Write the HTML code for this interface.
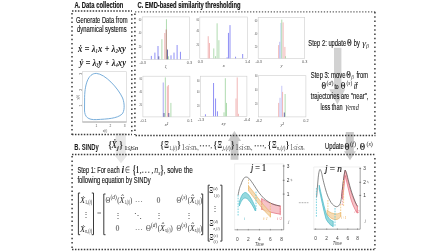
<!DOCTYPE html><html><head><meta charset="utf-8"><style>html,body{margin:0;padding:0;background:#fff;}svg{display:block;filter:blur(0.35px);}</style></head><body>
<svg width="448" height="252" viewBox="0 0 448 252">
<rect width="448" height="252" fill="#fff"/>
<path d="M115.6 133 H125.8 V154.5 H128 L121 163.3 L113.8 154.5 H115.6 Z" fill="#e8e8e8"/>
<path d="M230.6 159.7 V140.9 H227.9 L234.4 131 L241.1 140.9 H238.4 V159.7 Z" fill="#c9c9c9"/>
<path d="M334 47.7 H341.4 V89.2 H345.2 L337.4 104.5 L329.2 89.2 H334 Z" fill="#d2d2d2"/>
<path d="M345.8 132 H353.8 V151.2 H356 L350 160.2 L344 151.2 H345.8 Z" fill="#c9c9c9"/>
<line x1="72" y1="10.9" x2="132" y2="10.9" stroke="#3c3c3c" stroke-width="1.5" stroke-dasharray="1.5 1.4500000000000002"/>
<line x1="72" y1="13" x2="72" y2="135" stroke="#3c3c3c" stroke-width="1.5" stroke-dasharray="1.5 2.8"/>
<line x1="131.8" y1="14" x2="131.8" y2="133" stroke="#3c3c3c" stroke-width="1.5" stroke-dasharray="1.5 2.8"/>
<line x1="72" y1="134.6" x2="132" y2="134.6" stroke="#3c3c3c" stroke-width="1.5" stroke-dasharray="1.5 1.4500000000000002"/>
<line x1="135" y1="11.8" x2="375.5" y2="11.8" stroke="#606060" stroke-width="1.3" stroke-dasharray="1.3 1.6500000000000001"/>
<line x1="134.9" y1="13.5" x2="134.9" y2="135" stroke="#3c3c3c" stroke-width="1.5" stroke-dasharray="1.5 2.8"/>
<line x1="374.9" y1="12" x2="374.9" y2="135" stroke="#3c3c3c" stroke-width="1.5" stroke-dasharray="1.5 2.8"/>
<line x1="135.5" y1="135.6" x2="375.5" y2="135.6" stroke="#3c3c3c" stroke-width="1.5" stroke-dasharray="1.5 1.4500000000000002"/>
<line x1="72" y1="154.6" x2="375.5" y2="154.6" stroke="#3c3c3c" stroke-width="1.5" stroke-dasharray="1.5 1.4500000000000002"/>
<line x1="72.1" y1="156.1" x2="72.1" y2="249" stroke="#3c3c3c" stroke-width="1.5" stroke-dasharray="1.5 2.8"/>
<line x1="374.9" y1="158" x2="374.9" y2="249" stroke="#3c3c3c" stroke-width="1.5" stroke-dasharray="1.5 2.8"/>
<line x1="72" y1="249.6" x2="375.5" y2="249.6" stroke="#3c3c3c" stroke-width="1.5" stroke-dasharray="1.5 1.4500000000000002"/>
<text x="74.4" y="7.7" font-family="'Liberation Sans', Arial, sans-serif" font-size="8.8" font-weight="bold" font-style="normal" fill="#111" text-anchor="start" textLength="49" lengthAdjust="spacingAndGlyphs" stroke="#111" stroke-width="0.15">A. Data collection</text>
<text x="137.5" y="7.6" font-family="'Liberation Sans', Arial, sans-serif" font-size="8.8" font-weight="bold" font-style="normal" fill="#111" text-anchor="start" textLength="103" lengthAdjust="spacingAndGlyphs" stroke="#111" stroke-width="0.15">C. EMD-based similarity thresholding</text>
<text x="74.2" y="149.7" font-family="'Liberation Sans', Arial, sans-serif" font-size="8.8" font-weight="bold" font-style="normal" fill="#1a1a1a" text-anchor="start" textLength="24.6" lengthAdjust="spacingAndGlyphs" >B. SINDy</text>
<text x="76" y="22.8" font-family="'Liberation Sans', Arial, sans-serif" font-size="8.4" font-weight="normal" font-style="normal" fill="#111" text-anchor="start" textLength="51.5" lengthAdjust="spacingAndGlyphs"  stroke="#111" stroke-width="0.12">Generate Data from</text>
<text x="77.1" y="32.1" font-family="'Liberation Sans', Arial, sans-serif" font-size="8.4" font-weight="normal" font-style="normal" fill="#111" text-anchor="start" textLength="49.5" lengthAdjust="spacingAndGlyphs"  stroke="#111" stroke-width="0.12">dynamical systems</text>
<text x="78" y="51.8" font-family="'Liberation Serif', 'Times New Roman', serif" font-size="10.5" font-style="italic" font-weight="bold" fill="#1a1a1a" textLength="48" lengthAdjust="spacingAndGlyphs">ẋ = λ<tspan font-size="5.5" dy="1.2">1</tspan><tspan dy="-1.2">x + λ</tspan><tspan font-size="5.5" dy="1.2">2</tspan><tspan dy="-1.2">xy</tspan></text>
<text x="79.4" y="65.5" font-family="'Liberation Serif', 'Times New Roman', serif" font-size="10.5" font-style="italic" font-weight="bold" fill="#1a1a1a" textLength="46.6" lengthAdjust="spacingAndGlyphs">ẏ = λ<tspan font-size="5.5" dy="1.2">3</tspan><tspan dy="-1.2">y + λ</tspan><tspan font-size="5.5" dy="1.2">4</tspan><tspan dy="-1.2">xy</tspan></text>
<rect x="82.5" y="71.7" width="44.1" height="50.3" fill="none" stroke="#cfcfcf" stroke-width="0.6"/>
<line x1="82.5" y1="122" x2="126.6" y2="122" stroke="#999" stroke-width="0.8"/>
<path d="M84.6 100 C84.4 85 88 73.2 96.3 73.4 C105 73.8 118 88 122.6 98 C125 104 124.5 112 121.9 114.2 C117 118.5 108 119 96.3 119.6 C88 120 84.6 117 84.5 110 Z" fill="none" stroke="#72aad8" stroke-width="0.95"/>
<text x="96.3" y="126.8" font-family="'Liberation Sans', Arial, sans-serif" font-size="3.2" font-weight="normal" font-style="normal" fill="#555" text-anchor="middle" >1</text>
<text x="110.4" y="126.8" font-family="'Liberation Sans', Arial, sans-serif" font-size="3.2" font-weight="normal" font-style="normal" fill="#555" text-anchor="middle" >2</text>
<text x="124.6" y="126.8" font-family="'Liberation Sans', Arial, sans-serif" font-size="3.2" font-weight="normal" font-style="normal" fill="#555" text-anchor="middle" >3</text>
<text x="0" y="0" font-family="'Liberation Sans', Arial, sans-serif" font-size="3.6" fill="#555" text-anchor="middle" transform="translate(81.8 73.7) rotate(-90)">3</text>
<text x="0" y="0" font-family="'Liberation Sans', Arial, sans-serif" font-size="3.6" fill="#555" text-anchor="middle" transform="translate(81.8 89.8) rotate(-90)">2</text>
<text x="0" y="0" font-family="'Liberation Sans', Arial, sans-serif" font-size="3.6" fill="#555" text-anchor="middle" transform="translate(81.8 105.5) rotate(-90)">1</text>
<text x="105" y="131.6" font-family="'Liberation Sans', Arial, sans-serif" font-size="3.2" font-weight="normal" font-style="normal" fill="#555" text-anchor="middle" >x(t)</text>
<text x="0" y="0" font-family="'Liberation Sans', Arial, sans-serif" font-size="3.2" fill="#555" text-anchor="middle" transform="translate(79.2 97.2) rotate(-90)">y(t)</text>
<rect x="142.2" y="16.9" width="47.20" height="42.40" fill="none" stroke="#cdcdcd" stroke-width="0.6"/>
<text x="138.8" y="20.9" font-family="'Liberation Sans', Arial, sans-serif" font-size="3.4" font-weight="normal" font-style="normal" fill="#555" text-anchor="start" textLength="2.6" lengthAdjust="spacingAndGlyphs" >60</text>
<text x="138.8" y="33.8" font-family="'Liberation Sans', Arial, sans-serif" font-size="3.4" font-weight="normal" font-style="normal" fill="#555" text-anchor="start" textLength="2.6" lengthAdjust="spacingAndGlyphs" >40</text>
<text x="138.8" y="47.5" font-family="'Liberation Sans', Arial, sans-serif" font-size="3.4" font-weight="normal" font-style="normal" fill="#555" text-anchor="start" textLength="2.6" lengthAdjust="spacingAndGlyphs" >20</text>
<text x="142.7" y="64.2" font-family="'Liberation Sans', Arial, sans-serif" font-size="3.8" font-weight="normal" font-style="normal" fill="#555" text-anchor="middle" >-0.3</text>
<text x="189.4" y="64.2" font-family="'Liberation Sans', Arial, sans-serif" font-size="3.8" font-weight="normal" font-style="normal" fill="#555" text-anchor="middle" >0.3</text>
<text x="165.8" y="68.1" font-family="'Liberation Serif', 'Times New Roman', serif" font-size="4.6" font-weight="normal" font-style="italic" fill="#444" text-anchor="middle" >ξ</text>
<rect x="150.85" y="55.90" width="0.9" height="3.40" fill="#8484f4"/>
<rect x="154.45" y="52.60" width="0.9" height="6.70" fill="#8484f4"/>
<rect x="157.55" y="46.00" width="0.9" height="13.30" fill="#8484f4"/>
<rect x="161.45" y="39.20" width="0.9" height="20.10" fill="#a8d8a8"/>
<rect x="164.35" y="33.00" width="0.9" height="26.30" fill="#f0b0b0"/>
<rect x="165.95" y="19.20" width="0.9" height="40.10" fill="#a8d8a8"/>
<rect x="165.75" y="29.50" width="0.9" height="29.80" fill="#c08080"/>
<rect x="166.95" y="49.50" width="0.9" height="9.80" fill="#5a5a98"/>
<rect x="168.05" y="56.30" width="0.9" height="3.00" fill="#a8d8a8"/>
<rect x="170.55" y="55.30" width="0.9" height="4.00" fill="#8484f4"/>
<rect x="173.55" y="52.60" width="0.9" height="6.70" fill="#8484f4"/>
<rect x="176.65" y="45.00" width="0.9" height="14.30" fill="#8484f4"/>
<rect x="179.95" y="51.80" width="0.9" height="7.50" fill="#8484f4"/>
<rect x="158.35" y="56.30" width="0.9" height="3.00" fill="#5a5a98"/>
<rect x="199.8" y="17" width="47.80" height="41.40" fill="none" stroke="#cdcdcd" stroke-width="0.6"/>
<text x="196.4" y="21.1" font-family="'Liberation Sans', Arial, sans-serif" font-size="3.4" font-weight="normal" font-style="normal" fill="#555" text-anchor="start" textLength="2.6" lengthAdjust="spacingAndGlyphs" >60</text>
<text x="196.4" y="32.4" font-family="'Liberation Sans', Arial, sans-serif" font-size="3.4" font-weight="normal" font-style="normal" fill="#555" text-anchor="start" textLength="2.6" lengthAdjust="spacingAndGlyphs" >40</text>
<text x="196.4" y="46.1" font-family="'Liberation Sans', Arial, sans-serif" font-size="3.4" font-weight="normal" font-style="normal" fill="#555" text-anchor="start" textLength="2.6" lengthAdjust="spacingAndGlyphs" >20</text>
<text x="200.3" y="63.3" font-family="'Liberation Sans', Arial, sans-serif" font-size="3.8" font-weight="normal" font-style="normal" fill="#555" text-anchor="middle" >0.3</text>
<text x="247.6" y="63.3" font-family="'Liberation Sans', Arial, sans-serif" font-size="3.8" font-weight="normal" font-style="normal" fill="#555" text-anchor="middle" >1.4</text>
<text x="223.7" y="67.2" font-family="'Liberation Serif', 'Times New Roman', serif" font-size="4.6" font-weight="normal" font-style="italic" fill="#444" text-anchor="middle" >x</text>
<rect x="207.75" y="36.20" width="0.9" height="22.20" fill="#f0b0b0"/>
<rect x="208.95" y="43.00" width="0.9" height="15.40" fill="#f0b0b0"/>
<rect x="213.35" y="48.40" width="0.9" height="10.00" fill="#a8d8a8"/>
<rect x="215.15" y="56.20" width="0.9" height="2.20" fill="#a8d8a8"/>
<rect x="216.65" y="23.30" width="0.9" height="35.10" fill="#a8d8a8"/>
<rect x="218.45" y="40.20" width="0.9" height="18.20" fill="#a8d8a8"/>
<rect x="226.65" y="57.30" width="0.9" height="1.10" fill="#8484f4"/>
<rect x="227.95" y="32.90" width="0.9" height="25.50" fill="#8484f4"/>
<rect x="229.55" y="25.10" width="0.9" height="33.30" fill="#8484f4"/>
<rect x="235.15" y="56.70" width="0.9" height="1.70" fill="#8484f4"/>
<rect x="242.25" y="54.00" width="0.9" height="4.40" fill="#8484f4"/>
<rect x="258.2" y="17.3" width="46.50" height="41.10" fill="none" stroke="#cdcdcd" stroke-width="0.6"/>
<text x="254.8" y="22.2" font-family="'Liberation Sans', Arial, sans-serif" font-size="3.4" font-weight="normal" font-style="normal" fill="#555" text-anchor="start" textLength="2.6" lengthAdjust="spacingAndGlyphs" >60</text>
<text x="254.8" y="35.1" font-family="'Liberation Sans', Arial, sans-serif" font-size="3.4" font-weight="normal" font-style="normal" fill="#555" text-anchor="start" textLength="2.6" lengthAdjust="spacingAndGlyphs" >40</text>
<text x="254.8" y="48.0" font-family="'Liberation Sans', Arial, sans-serif" font-size="3.4" font-weight="normal" font-style="normal" fill="#555" text-anchor="start" textLength="2.6" lengthAdjust="spacingAndGlyphs" >20</text>
<text x="258.7" y="63.3" font-family="'Liberation Sans', Arial, sans-serif" font-size="3.8" font-weight="normal" font-style="normal" fill="#555" text-anchor="middle" >-0.3</text>
<text x="304.7" y="63.3" font-family="'Liberation Sans', Arial, sans-serif" font-size="3.8" font-weight="normal" font-style="normal" fill="#555" text-anchor="middle" >0.3</text>
<text x="281.45" y="67.2" font-family="'Liberation Serif', 'Times New Roman', serif" font-size="4.6" font-weight="normal" font-style="italic" fill="#444" text-anchor="middle" >y</text>
<rect x="278.25" y="45.10" width="0.9" height="13.30" fill="#f0b0b0"/>
<rect x="279.35" y="41.80" width="0.9" height="16.60" fill="#b0b0f0"/>
<rect x="280.45" y="22.90" width="0.9" height="35.50" fill="#b0d0f0"/>
<rect x="281.35" y="19.60" width="0.9" height="38.80" fill="#a8d8a8"/>
<rect x="282.65" y="22.40" width="0.9" height="36.00" fill="#f0b0b0"/>
<rect x="284.45" y="46.90" width="0.9" height="11.50" fill="#f0b0b0"/>
<rect x="284.95" y="56.20" width="0.9" height="2.20" fill="#a8d8a8"/>
<rect x="142.9" y="76.2" width="47.00" height="40.70" fill="none" stroke="#cdcdcd" stroke-width="0.6"/>
<text x="139.5" y="80.3" font-family="'Liberation Sans', Arial, sans-serif" font-size="3.4" font-weight="normal" font-style="normal" fill="#555" text-anchor="start" textLength="2.6" lengthAdjust="spacingAndGlyphs" >60</text>
<text x="139.5" y="93.3" font-family="'Liberation Sans', Arial, sans-serif" font-size="3.4" font-weight="normal" font-style="normal" fill="#555" text-anchor="start" textLength="2.6" lengthAdjust="spacingAndGlyphs" >40</text>
<text x="139.5" y="106.0" font-family="'Liberation Sans', Arial, sans-serif" font-size="3.4" font-weight="normal" font-style="normal" fill="#555" text-anchor="start" textLength="2.6" lengthAdjust="spacingAndGlyphs" >20</text>
<text x="143.4" y="121.80000000000001" font-family="'Liberation Sans', Arial, sans-serif" font-size="3.8" font-weight="normal" font-style="normal" fill="#555" text-anchor="middle" >-0.1</text>
<text x="189.9" y="121.80000000000001" font-family="'Liberation Sans', Arial, sans-serif" font-size="3.8" font-weight="normal" font-style="normal" fill="#555" text-anchor="middle" >0.1</text>
<text x="166.4" y="125.7" font-family="'Liberation Serif', 'Times New Roman', serif" font-size="4.6" font-weight="normal" font-style="italic" fill="#444" text-anchor="middle" >x²</text>
<rect x="162.75" y="82.50" width="0.9" height="34.40" fill="#a0a0f0"/>
<rect x="164.85" y="77.40" width="0.9" height="39.50" fill="#a8d8a8"/>
<rect x="166.85" y="86.30" width="0.9" height="30.60" fill="#f0b0b0"/>
<rect x="167.85" y="85.00" width="0.9" height="31.90" fill="#f0b0b0"/>
<rect x="170.45" y="102.90" width="0.9" height="14.00" fill="#a8d8a8"/>
<rect x="163.55" y="113.00" width="0.9" height="3.90" fill="#5a5a98"/>
<rect x="168.35" y="113.00" width="0.9" height="3.90" fill="#5a5a98"/>
<rect x="200.4" y="76.2" width="46.50" height="40.10" fill="none" stroke="#cdcdcd" stroke-width="0.6"/>
<text x="197.0" y="81.8" font-family="'Liberation Sans', Arial, sans-serif" font-size="3.4" font-weight="normal" font-style="normal" fill="#555" text-anchor="start" textLength="2.6" lengthAdjust="spacingAndGlyphs" >60</text>
<text x="197.0" y="93.3" font-family="'Liberation Sans', Arial, sans-serif" font-size="3.4" font-weight="normal" font-style="normal" fill="#555" text-anchor="start" textLength="2.6" lengthAdjust="spacingAndGlyphs" >40</text>
<text x="197.0" y="106.5" font-family="'Liberation Sans', Arial, sans-serif" font-size="3.4" font-weight="normal" font-style="normal" fill="#555" text-anchor="start" textLength="2.6" lengthAdjust="spacingAndGlyphs" >20</text>
<text x="200.9" y="121.2" font-family="'Liberation Sans', Arial, sans-serif" font-size="3.8" font-weight="normal" font-style="normal" fill="#555" text-anchor="middle" >-1.3</text>
<text x="246.9" y="121.2" font-family="'Liberation Sans', Arial, sans-serif" font-size="3.8" font-weight="normal" font-style="normal" fill="#555" text-anchor="middle" >-0.4</text>
<text x="223.65" y="125.1" font-family="'Liberation Serif', 'Times New Roman', serif" font-size="4.6" font-weight="normal" font-style="italic" fill="#444" text-anchor="middle" >xy</text>
<rect x="204.95" y="114.30" width="0.9" height="2.00" fill="#8484f4"/>
<rect x="213.15" y="83.00" width="0.9" height="33.30" fill="#8484f4"/>
<rect x="215.15" y="98.50" width="0.9" height="17.80" fill="#8484f4"/>
<rect x="216.95" y="111.30" width="0.9" height="5.00" fill="#8484f4"/>
<rect x="223.55" y="112.30" width="0.9" height="4.00" fill="#a8d8a8"/>
<rect x="224.85" y="78.20" width="0.9" height="38.10" fill="#a8d8a8"/>
<rect x="226.05" y="102.90" width="0.9" height="13.40" fill="#a8d8a8"/>
<rect x="235.55" y="98.50" width="0.9" height="17.80" fill="#f0b0b0"/>
<rect x="236.75" y="77.40" width="0.9" height="38.90" fill="#f0b0b0"/>
<rect x="237.95" y="113.80" width="0.9" height="2.50" fill="#f0b0b0"/>
<rect x="258.4" y="75.7" width="47.50" height="41.20" fill="none" stroke="#cdcdcd" stroke-width="0.6"/>
<text x="255.0" y="77.3" font-family="'Liberation Sans', Arial, sans-serif" font-size="3.4" font-weight="normal" font-style="normal" fill="#555" text-anchor="start" textLength="2.6" lengthAdjust="spacingAndGlyphs" >60</text>
<text x="255.0" y="90.7" font-family="'Liberation Sans', Arial, sans-serif" font-size="3.4" font-weight="normal" font-style="normal" fill="#555" text-anchor="start" textLength="2.6" lengthAdjust="spacingAndGlyphs" >40</text>
<text x="255.0" y="104.5" font-family="'Liberation Sans', Arial, sans-serif" font-size="3.4" font-weight="normal" font-style="normal" fill="#555" text-anchor="start" textLength="2.6" lengthAdjust="spacingAndGlyphs" >20</text>
<text x="258.9" y="121.80000000000001" font-family="'Liberation Sans', Arial, sans-serif" font-size="3.8" font-weight="normal" font-style="normal" fill="#555" text-anchor="middle" >-0.2</text>
<text x="305.9" y="121.80000000000001" font-family="'Liberation Sans', Arial, sans-serif" font-size="3.8" font-weight="normal" font-style="normal" fill="#555" text-anchor="middle" >0.2</text>
<text x="282.15" y="125.7" font-family="'Liberation Serif', 'Times New Roman', serif" font-size="4.6" font-weight="normal" font-style="italic" fill="#444" text-anchor="middle" >y²</text>
<rect x="278.25" y="102.90" width="0.9" height="14.00" fill="#f0b0b0"/>
<rect x="279.55" y="97.80" width="0.9" height="19.10" fill="#b8b8f0"/>
<rect x="281.35" y="85.80" width="0.9" height="31.10" fill="#c0c0f8"/>
<rect x="282.15" y="91.90" width="0.9" height="25.00" fill="#f0b0b0"/>
<rect x="284.65" y="94.00" width="0.9" height="22.90" fill="#a8d8a8"/>
<rect x="283.85" y="112.50" width="0.9" height="4.40" fill="#5a5a98"/>
<text x="308.3" y="45.9" font-family="'Liberation Sans', Arial, sans-serif" font-size="8.4" font-style="normal" font-weight="normal" fill="#111" textLength="37.9" lengthAdjust="spacingAndGlyphs" stroke="#111" stroke-width="0.12">Step 2: update</text>
<text x="347.1" y="46.1" font-family="'Liberation Serif', 'Times New Roman', serif" font-size="10" font-style="normal" font-weight="bold" fill="#222" textLength="4.7" lengthAdjust="spacingAndGlyphs">Θ</text>
<text x="353.8" y="45.9" font-family="'Liberation Sans', Arial, sans-serif" font-size="8.4" font-style="normal" font-weight="normal" fill="#111" textLength="6" lengthAdjust="spacingAndGlyphs" stroke="#111" stroke-width="0.12">by</text>
<text x="362.2" y="45.9" font-family="'Liberation Serif', 'Times New Roman', serif" font-size="8.6" font-style="italic" font-weight="normal" fill="#222" textLength="3.8" lengthAdjust="spacingAndGlyphs">γ</text>
<text x="366" y="47.699999999999996" font-family="'Liberation Serif', 'Times New Roman', serif" font-size="5.6" font-style="italic" font-weight="normal" fill="#333" textLength="3" lengthAdjust="spacingAndGlyphs">β</text>
<text x="310.8" y="77.5" font-family="'Liberation Sans', Arial, sans-serif" font-size="8.4" font-style="normal" font-weight="normal" fill="#111" textLength="34.7" lengthAdjust="spacingAndGlyphs" stroke="#111" stroke-width="0.12">Step 3: move</text>
<text x="346.3" y="77.7" font-family="'Liberation Serif', 'Times New Roman', serif" font-size="10" font-style="normal" font-weight="bold" fill="#222" textLength="4.6" lengthAdjust="spacingAndGlyphs">Θ</text>
<text x="351.2" y="79.3" font-family="'Liberation Serif', 'Times New Roman', serif" font-size="5.6" font-style="italic" font-weight="normal" fill="#333" textLength="2.6" lengthAdjust="spacingAndGlyphs">β</text>
<text x="356.5" y="77.5" font-family="'Liberation Sans', Arial, sans-serif" font-size="8.4" font-style="normal" font-weight="normal" fill="#111" textLength="11.4" lengthAdjust="spacingAndGlyphs" stroke="#111" stroke-width="0.12">from</text>
<text x="321.6" y="88.6" font-family="'Liberation Serif', 'Times New Roman', serif" font-size="9.6" font-style="normal" font-weight="bold" fill="#222" textLength="4.6" lengthAdjust="spacingAndGlyphs">Θ</text>
<text x="326.5" y="85.39999999999999" font-family="'Liberation Serif', 'Times New Roman', serif" font-size="7" font-style="normal" font-weight="normal" fill="#222" textLength="7" lengthAdjust="spacingAndGlyphs">(<tspan font-style="italic">d</tspan>)</text>
<text x="334.4" y="88.6" font-family="'Liberation Sans', Arial, sans-serif" font-size="7.800000000000001" font-style="normal" font-weight="normal" fill="#111" textLength="4.2" lengthAdjust="spacingAndGlyphs" stroke="#111" stroke-width="0.12">to</text>
<text x="340.8" y="88.6" font-family="'Liberation Serif', 'Times New Roman', serif" font-size="9.6" font-style="normal" font-weight="bold" fill="#222" textLength="4.7" lengthAdjust="spacingAndGlyphs">Θ</text>
<text x="346.5" y="85.39999999999999" font-family="'Liberation Serif', 'Times New Roman', serif" font-size="7" font-style="normal" font-weight="normal" fill="#222" textLength="5.7" lengthAdjust="spacingAndGlyphs">(<tspan font-style="italic">s</tspan>)</text>
<text x="354.1" y="88.6" font-family="'Liberation Sans', Arial, sans-serif" font-size="8.4" font-style="italic" font-weight="normal" fill="#111" textLength="3.3" lengthAdjust="spacingAndGlyphs" stroke="#111" stroke-width="0.12">if</text>
<text x="310.8" y="99.2" font-family="'Liberation Sans', Arial, sans-serif" font-size="8.4" font-style="normal" font-weight="normal" fill="#111" textLength="57.6" lengthAdjust="spacingAndGlyphs" stroke="#111" stroke-width="0.12">trajectories are "near",</text>
<text x="320.4" y="109.7" font-family="'Liberation Sans', Arial, sans-serif" font-size="8.4" font-style="normal" font-weight="normal" fill="#111" textLength="22.2" lengthAdjust="spacingAndGlyphs" stroke="#111" stroke-width="0.12">less than</text>
<text x="345.5" y="109.3" font-family="'Liberation Serif', 'Times New Roman', serif" font-size="7.6" font-style="italic" font-weight="normal" fill="#222" textLength="3" lengthAdjust="spacingAndGlyphs">γ</text>
<text x="348.3" y="110.3" font-family="'Liberation Serif', 'Times New Roman', serif" font-size="8" font-style="italic" font-weight="normal" fill="#222" textLength="10.5" lengthAdjust="spacingAndGlyphs">emd</text>
<text x="108.6" y="148.3" font-family="'Liberation Serif', 'Times New Roman', serif" font-size="10.5" font-style="normal" font-weight="bold" fill="#222" textLength="3.2" lengthAdjust="spacingAndGlyphs">{</text>
<text x="111.6" y="148.3" font-family="'Liberation Serif', 'Times New Roman', serif" font-size="9.8" font-style="italic" font-weight="bold" fill="#2a2a2a" textLength="5.4" lengthAdjust="spacingAndGlyphs">Ẋ</text>
<text x="116.9" y="150.3" font-family="'Liberation Serif', 'Times New Roman', serif" font-size="6.6" font-style="italic" font-weight="bold" fill="#222">j</text>
<text x="119.5" y="148.3" font-family="'Liberation Serif', 'Times New Roman', serif" font-size="10.5" font-style="normal" font-weight="bold" fill="#222" textLength="3.2" lengthAdjust="spacingAndGlyphs">}</text>
<text x="124.6" y="150.10000000000002" font-family="'Liberation Serif', 'Times New Roman', serif" font-size="6.6" font-style="normal" font-weight="bold" fill="#333" textLength="13.6" lengthAdjust="spacingAndGlyphs">1≤<tspan font-style="italic">j</tspan>≤<tspan font-style="italic">n</tspan></text>
<text x="160.4" y="148.3" font-family="'Liberation Serif', 'Times New Roman', serif" font-size="10.5" font-style="normal" font-weight="bold" fill="#222" textLength="3.0" lengthAdjust="spacingAndGlyphs">{</text>
<text x="164.3" y="148.10000000000002" font-family="'Liberation Serif', 'Times New Roman', serif" font-size="9.4" font-style="normal" font-weight="bold" fill="#333" textLength="4.6000000000000005" lengthAdjust="spacingAndGlyphs">Ξ</text>
<text x="169.20000000000002" y="149.9" font-family="'Liberation Serif', 'Times New Roman', serif" font-size="7" font-style="normal" font-weight="normal" fill="#333" textLength="7.8" lengthAdjust="spacingAndGlyphs">1,(<tspan font-style="italic">i</tspan>)</text>
<text x="177.60000000000002" y="148.3" font-family="'Liberation Serif', 'Times New Roman', serif" font-size="10.5" font-style="normal" font-weight="bold" fill="#222" textLength="3.0" lengthAdjust="spacingAndGlyphs">}</text>
<text x="181.8" y="149.5" font-family="'Liberation Serif', 'Times New Roman', serif" font-size="7.4" font-style="normal" font-weight="normal" fill="#333" textLength="17" lengthAdjust="spacingAndGlyphs">1≤<tspan font-style="italic">i</tspan>≤<tspan font-style="italic">n</tspan><tspan font-size="4" font-style="italic">s</tspan>,</text>
<rect x="199.90" y="145.2" width="1.2" height="1.2" fill="#444"/><rect x="202.80" y="145.2" width="1.2" height="1.2" fill="#444"/><rect x="205.70" y="145.2" width="1.2" height="1.2" fill="#444"/><rect x="208.60" y="145.2" width="1.2" height="1.2" fill="#444"/>
<text x="210.3" y="148.3" font-family="'Liberation Serif', 'Times New Roman', serif" font-size="8" font-style="normal" font-weight="normal" fill="#333">,</text>
<text x="213.7" y="148.3" font-family="'Liberation Serif', 'Times New Roman', serif" font-size="10.5" font-style="normal" font-weight="bold" fill="#222" textLength="3.0" lengthAdjust="spacingAndGlyphs">{</text>
<text x="217.6" y="148.10000000000002" font-family="'Liberation Serif', 'Times New Roman', serif" font-size="9.4" font-style="normal" font-weight="bold" fill="#333" textLength="4.6000000000000005" lengthAdjust="spacingAndGlyphs">Ξ</text>
<text x="222.5" y="149.9" font-family="'Liberation Serif', 'Times New Roman', serif" font-size="7" font-style="normal" font-weight="normal" fill="#333" textLength="8.2" lengthAdjust="spacingAndGlyphs"><tspan font-style="italic">j</tspan>,(<tspan font-style="italic">i</tspan>)</text>
<text x="231.29999999999998" y="148.3" font-family="'Liberation Serif', 'Times New Roman', serif" font-size="10.5" font-style="normal" font-weight="bold" fill="#222" textLength="3.0" lengthAdjust="spacingAndGlyphs">}</text>
<text x="235.49999999999997" y="149.5" font-family="'Liberation Serif', 'Times New Roman', serif" font-size="7.4" font-style="normal" font-weight="normal" fill="#333" textLength="17" lengthAdjust="spacingAndGlyphs">1≤<tspan font-style="italic">i</tspan>≤<tspan font-style="italic">n</tspan><tspan font-size="4" font-style="italic">s</tspan>,</text>
<rect x="254.70" y="145.2" width="1.2" height="1.2" fill="#444"/><rect x="257.40" y="145.2" width="1.2" height="1.2" fill="#444"/><rect x="260.10" y="145.2" width="1.2" height="1.2" fill="#444"/><rect x="262.80" y="145.2" width="1.2" height="1.2" fill="#444"/>
<text x="264.3" y="148.3" font-family="'Liberation Serif', 'Times New Roman', serif" font-size="8" font-style="normal" font-weight="normal" fill="#333">,</text>
<text x="268" y="148.3" font-family="'Liberation Serif', 'Times New Roman', serif" font-size="10.5" font-style="normal" font-weight="bold" fill="#222" textLength="3.0" lengthAdjust="spacingAndGlyphs">{</text>
<text x="271.9" y="148.10000000000002" font-family="'Liberation Serif', 'Times New Roman', serif" font-size="9.4" font-style="normal" font-weight="bold" fill="#333" textLength="4.6000000000000005" lengthAdjust="spacingAndGlyphs">Ξ</text>
<text x="276.8" y="149.9" font-family="'Liberation Serif', 'Times New Roman', serif" font-size="7" font-style="normal" font-weight="normal" fill="#333" textLength="8.6" lengthAdjust="spacingAndGlyphs"><tspan font-style="italic">n</tspan>,(<tspan font-style="italic">i</tspan>)</text>
<text x="286.00000000000006" y="148.3" font-family="'Liberation Serif', 'Times New Roman', serif" font-size="10.5" font-style="normal" font-weight="bold" fill="#222" textLength="3.0" lengthAdjust="spacingAndGlyphs">}</text>
<text x="290.20000000000005" y="149.5" font-family="'Liberation Serif', 'Times New Roman', serif" font-size="7.4" font-style="normal" font-weight="normal" fill="#333" textLength="14.2" lengthAdjust="spacingAndGlyphs">1≤<tspan font-style="italic">i</tspan>≤<tspan font-style="italic">n</tspan><tspan font-size="4" font-style="italic">s</tspan></text>
<text x="325" y="149.4" font-family="'Liberation Sans', Arial, sans-serif" font-size="8.4" font-style="normal" font-weight="normal" fill="#111" textLength="18.7" lengthAdjust="spacingAndGlyphs" stroke="#111" stroke-width="0.12">Update</text>
<text x="344.6" y="149.6" font-family="'Liberation Serif', 'Times New Roman', serif" font-size="9.4" font-style="normal" font-weight="bold" fill="#222" textLength="5" lengthAdjust="spacingAndGlyphs">Θ</text>
<text x="350" y="146.4" font-family="'Liberation Serif', 'Times New Roman', serif" font-size="7" font-style="normal" font-weight="normal" fill="#222" textLength="6" lengthAdjust="spacingAndGlyphs">(<tspan font-style="italic">f</tspan>)</text>
<text x="356.6" y="149.4" font-family="'Liberation Serif', 'Times New Roman', serif" font-size="8" font-style="normal" font-weight="normal" fill="#333">,</text>
<text x="359.8" y="149.6" font-family="'Liberation Serif', 'Times New Roman', serif" font-size="9.4" font-style="normal" font-weight="bold" fill="#222" textLength="5.4" lengthAdjust="spacingAndGlyphs">Θ</text>
<text x="366.4" y="146" font-family="'Liberation Serif', 'Times New Roman', serif" font-size="7" font-style="normal" font-weight="normal" fill="#222" textLength="6.4" lengthAdjust="spacingAndGlyphs">(<tspan font-style="italic">s</tspan>)</text>
<text x="77.4" y="172.8" font-family="'Liberation Sans', Arial, sans-serif" font-size="8.4" font-style="normal" font-weight="normal" fill="#111" textLength="42.4" lengthAdjust="spacingAndGlyphs" stroke="#111" stroke-width="0.12">Step 1: For each</text>
<text x="121.6" y="172.8" font-family="'Liberation Serif', 'Times New Roman', serif" font-size="9.5" font-style="italic" font-weight="bold" fill="#222">i</text>
<text x="125.3" y="172.8" font-family="'Liberation Serif', 'Times New Roman', serif" font-size="8.5" font-style="normal" font-weight="normal" fill="#333" textLength="5" lengthAdjust="spacingAndGlyphs">∈</text>
<text x="132.8" y="173.8" font-family="'Liberation Serif', 'Times New Roman', serif" font-size="11.5" font-style="normal" font-weight="bold" fill="#222" textLength="3" lengthAdjust="spacingAndGlyphs">{</text>
<text x="136.1" y="172.8" font-family="'Liberation Serif', 'Times New Roman', serif" font-size="10" font-style="normal" font-weight="bold" fill="#222" textLength="3" lengthAdjust="spacingAndGlyphs">1</text>
<text x="139.4" y="172.8" font-family="'Liberation Serif', 'Times New Roman', serif" font-size="9" font-style="normal" font-weight="normal" fill="#222">,</text>
<rect x="142.20" y="171.70000000000002" width="1.1" height="1.1" fill="#333"/><rect x="145.20" y="171.70000000000002" width="1.1" height="1.1" fill="#333"/><rect x="148.20" y="171.70000000000002" width="1.1" height="1.1" fill="#333"/>
<text x="151.2" y="172.8" font-family="'Liberation Serif', 'Times New Roman', serif" font-size="9" font-style="normal" font-weight="normal" fill="#222">,</text>
<text x="154.3" y="172.8" font-family="'Liberation Serif', 'Times New Roman', serif" font-size="10" font-style="italic" font-weight="normal" fill="#222" textLength="3.9" lengthAdjust="spacingAndGlyphs">n</text>
<text x="158.2" y="174.60000000000002" font-family="'Liberation Serif', 'Times New Roman', serif" font-size="6.5" font-style="italic" font-weight="normal" fill="#222" textLength="2.2" lengthAdjust="spacingAndGlyphs">s</text>
<text x="160.5" y="173.8" font-family="'Liberation Serif', 'Times New Roman', serif" font-size="11.5" font-style="normal" font-weight="bold" fill="#222" textLength="3" lengthAdjust="spacingAndGlyphs">}</text>
<text x="163.6" y="172.8" font-family="'Liberation Sans', Arial, sans-serif" font-size="8.4" font-style="normal" font-weight="normal" fill="#111" textLength="29.2" lengthAdjust="spacingAndGlyphs" stroke="#111" stroke-width="0.12">, solve the</text>
<text x="77.4" y="182.5" font-family="'Liberation Sans', Arial, sans-serif" font-size="8.4" font-style="normal" font-weight="normal" fill="#111" textLength="73.2" lengthAdjust="spacingAndGlyphs" stroke="#111" stroke-width="0.12">following equation by SINDy</text>
<path d="M80.10000000000001 193 H78.4 V234.7 H80.10000000000001" fill="none" stroke="#3a3a3a" stroke-width="1"/>
<path d="M91.8 193 H93.5 V234.7 H91.8" fill="none" stroke="#3a3a3a" stroke-width="1"/>
<path d="M105.5 194 H103.8 V234.7 H105.5" fill="none" stroke="#3a3a3a" stroke-width="1"/>
<path d="M201.0 194 H202.7 V234.7 H201.0" fill="none" stroke="#3a3a3a" stroke-width="1"/>
<path d="M209.89999999999998 185.2 H208.2 V241.1 H209.89999999999998" fill="none" stroke="#3a3a3a" stroke-width="1"/>
<path d="M220.20000000000002 185.2 H221.9 V241.1 H220.20000000000002" fill="none" stroke="#3a3a3a" stroke-width="1"/>
<text x="80" y="202.8" font-family="'Liberation Serif', 'Times New Roman', serif" font-size="8.6" font-style="italic" font-weight="normal" fill="#222" textLength="5" lengthAdjust="spacingAndGlyphs">Ẋ</text>
<text x="85" y="204.4" font-family="'Liberation Serif', 'Times New Roman', serif" font-size="5.2" font-style="normal" font-weight="normal" fill="#333" textLength="7.2" lengthAdjust="spacingAndGlyphs">1,(<tspan font-style="italic">i</tspan>)</text>
<text x="86.3" y="216.5" font-family="'Liberation Serif', 'Times New Roman', serif" font-size="8" font-weight="normal" font-style="normal" fill="#444" text-anchor="middle" >⋮</text>
<text x="80" y="231.5" font-family="'Liberation Serif', 'Times New Roman', serif" font-size="8.6" font-style="italic" font-weight="normal" fill="#222" textLength="5" lengthAdjust="spacingAndGlyphs">Ẋ</text>
<text x="85" y="233.1" font-family="'Liberation Serif', 'Times New Roman', serif" font-size="5.2" font-style="normal" font-weight="normal" fill="#333" textLength="7.2" lengthAdjust="spacingAndGlyphs"><tspan font-style="italic">n</tspan>,(<tspan font-style="italic">i</tspan>)</text>
<text x="96.9" y="215.6" font-family="'Liberation Serif', 'Times New Roman', serif" font-size="8" font-style="normal" font-weight="normal" fill="#777" textLength="4.4" lengthAdjust="spacingAndGlyphs">=</text>
<text x="105.6" y="202.8" font-family="'Liberation Serif', 'Times New Roman', serif" font-size="9" font-style="normal" font-weight="normal" fill="#333" textLength="4.8" lengthAdjust="spacingAndGlyphs">Θ</text>
<text x="110.5" y="199.4" font-family="'Liberation Serif', 'Times New Roman', serif" font-size="5.4" font-style="normal" font-weight="normal" fill="#333" textLength="6.2" lengthAdjust="spacingAndGlyphs">(<tspan font-style="italic">d</tspan>)</text>
<text x="117.19999999999999" y="203.4" font-family="'Liberation Serif', 'Times New Roman', serif" font-size="9" font-style="normal" font-weight="normal" fill="#333" textLength="2.2" lengthAdjust="spacingAndGlyphs">(</text>
<text x="119.19999999999999" y="202.8" font-family="'Liberation Serif', 'Times New Roman', serif" font-size="8.6" font-style="italic" font-weight="normal" fill="#333" textLength="5.2" lengthAdjust="spacingAndGlyphs">X̂</text>
<text x="124.39999999999999" y="204.4" font-family="'Liberation Serif', 'Times New Roman', serif" font-size="5.2" font-style="normal" font-weight="normal" fill="#333" textLength="5.6" lengthAdjust="spacingAndGlyphs">1,(<tspan font-style="italic">i</tspan>)</text>
<text x="130.0" y="203.4" font-family="'Liberation Serif', 'Times New Roman', serif" font-size="9" font-style="normal" font-weight="normal" fill="#333" textLength="2.2" lengthAdjust="spacingAndGlyphs">)</text>
<text x="135.6" y="202.3" font-family="'Liberation Serif', 'Times New Roman', serif" font-size="7" font-style="normal" font-weight="bold" fill="#333" textLength="6.6" lengthAdjust="spacingAndGlyphs">. . .</text>
<text x="156.6" y="202.8" font-family="'Liberation Serif', 'Times New Roman', serif" font-size="7.4" font-style="normal" font-weight="bold" fill="#888" textLength="4" lengthAdjust="spacingAndGlyphs">0</text>
<text x="176.6" y="202.8" font-family="'Liberation Serif', 'Times New Roman', serif" font-size="9" font-style="normal" font-weight="normal" fill="#333" textLength="4.608" lengthAdjust="spacingAndGlyphs">Θ</text>
<text x="181.304" y="199.4" font-family="'Liberation Serif', 'Times New Roman', serif" font-size="5.4" font-style="normal" font-weight="normal" fill="#333" textLength="5.952" lengthAdjust="spacingAndGlyphs">(<tspan font-style="italic">s</tspan>)</text>
<text x="187.736" y="203.4" font-family="'Liberation Serif', 'Times New Roman', serif" font-size="9" font-style="normal" font-weight="normal" fill="#333" textLength="2.112" lengthAdjust="spacingAndGlyphs">(</text>
<text x="189.656" y="202.8" font-family="'Liberation Serif', 'Times New Roman', serif" font-size="8.6" font-style="italic" font-weight="normal" fill="#333" textLength="4.992" lengthAdjust="spacingAndGlyphs">X̂</text>
<text x="194.648" y="204.4" font-family="'Liberation Serif', 'Times New Roman', serif" font-size="5.2" font-style="normal" font-weight="normal" fill="#333" textLength="5.3759999999999994" lengthAdjust="spacingAndGlyphs">1,(<tspan font-style="italic">i</tspan>)</text>
<text x="200.024" y="203.4" font-family="'Liberation Serif', 'Times New Roman', serif" font-size="9" font-style="normal" font-weight="normal" fill="#333" textLength="2.112" lengthAdjust="spacingAndGlyphs">)</text>
<text x="117.8" y="218" font-family="'Liberation Serif', 'Times New Roman', serif" font-size="8" font-weight="normal" font-style="normal" fill="#444" text-anchor="middle" >⋮</text>
<text x="137.9" y="218" font-family="'Liberation Serif', 'Times New Roman', serif" font-size="8" font-weight="normal" font-style="normal" fill="#444" text-anchor="middle" >⋱</text>
<text x="158.6" y="218" font-family="'Liberation Serif', 'Times New Roman', serif" font-size="8" font-weight="normal" font-style="normal" fill="#444" text-anchor="middle" >⋮</text>
<text x="189.2" y="218" font-family="'Liberation Serif', 'Times New Roman', serif" font-size="8" font-weight="normal" font-style="normal" fill="#444" text-anchor="middle" >⋮</text>
<text x="115.6" y="230.8" font-family="'Liberation Serif', 'Times New Roman', serif" font-size="7.4" font-style="normal" font-weight="bold" fill="#888" textLength="4" lengthAdjust="spacingAndGlyphs">0</text>
<text x="135.6" y="230.3" font-family="'Liberation Serif', 'Times New Roman', serif" font-size="7" font-style="normal" font-weight="bold" fill="#333" textLength="6.6" lengthAdjust="spacingAndGlyphs">. . .</text>
<text x="146.1" y="230.8" font-family="'Liberation Serif', 'Times New Roman', serif" font-size="9" font-style="normal" font-weight="normal" fill="#333" textLength="4.8" lengthAdjust="spacingAndGlyphs">Θ</text>
<text x="151.0" y="227.4" font-family="'Liberation Serif', 'Times New Roman', serif" font-size="5.4" font-style="normal" font-weight="normal" fill="#333" textLength="6.2" lengthAdjust="spacingAndGlyphs">(<tspan font-style="italic">d</tspan>)</text>
<text x="157.7" y="231.4" font-family="'Liberation Serif', 'Times New Roman', serif" font-size="9" font-style="normal" font-weight="normal" fill="#333" textLength="2.2" lengthAdjust="spacingAndGlyphs">(</text>
<text x="159.7" y="230.8" font-family="'Liberation Serif', 'Times New Roman', serif" font-size="8.6" font-style="italic" font-weight="normal" fill="#333" textLength="5.2" lengthAdjust="spacingAndGlyphs">X̂</text>
<text x="164.9" y="232.4" font-family="'Liberation Serif', 'Times New Roman', serif" font-size="5.2" font-style="normal" font-weight="normal" fill="#333" textLength="5.6" lengthAdjust="spacingAndGlyphs"><tspan font-style="italic">n</tspan>,(<tspan font-style="italic">i</tspan>)</text>
<text x="170.5" y="231.4" font-family="'Liberation Serif', 'Times New Roman', serif" font-size="9" font-style="normal" font-weight="normal" fill="#333" textLength="2.2" lengthAdjust="spacingAndGlyphs">)</text>
<text x="176.6" y="230.8" font-family="'Liberation Serif', 'Times New Roman', serif" font-size="9" font-style="normal" font-weight="normal" fill="#333" textLength="4.608" lengthAdjust="spacingAndGlyphs">Θ</text>
<text x="181.304" y="227.4" font-family="'Liberation Serif', 'Times New Roman', serif" font-size="5.4" font-style="normal" font-weight="normal" fill="#333" textLength="5.952" lengthAdjust="spacingAndGlyphs">(<tspan font-style="italic">s</tspan>)</text>
<text x="187.736" y="231.4" font-family="'Liberation Serif', 'Times New Roman', serif" font-size="9" font-style="normal" font-weight="normal" fill="#333" textLength="2.112" lengthAdjust="spacingAndGlyphs">(</text>
<text x="189.656" y="230.8" font-family="'Liberation Serif', 'Times New Roman', serif" font-size="8.6" font-style="italic" font-weight="normal" fill="#333" textLength="4.992" lengthAdjust="spacingAndGlyphs">X̂</text>
<text x="194.648" y="232.4" font-family="'Liberation Serif', 'Times New Roman', serif" font-size="5.2" font-style="normal" font-weight="normal" fill="#333" textLength="5.3759999999999994" lengthAdjust="spacingAndGlyphs"><tspan font-style="italic">n</tspan>,(<tspan font-style="italic">i</tspan>)</text>
<text x="200.024" y="231.4" font-family="'Liberation Serif', 'Times New Roman', serif" font-size="9" font-style="normal" font-weight="normal" fill="#333" textLength="2.112" lengthAdjust="spacingAndGlyphs">)</text>
<text x="209.29999999999998" y="193.3" font-family="'Liberation Serif', 'Times New Roman', serif" font-size="8.6" font-style="normal" font-weight="bold" fill="#333" textLength="4" lengthAdjust="spacingAndGlyphs">Ξ</text>
<text x="213.2" y="190.2" font-family="'Liberation Serif', 'Times New Roman', serif" font-size="5" font-style="normal" font-weight="normal" fill="#333" textLength="4.4" lengthAdjust="spacingAndGlyphs">(<tspan font-style="italic">d</tspan>)</text>
<text x="213.4" y="196.6" font-family="'Liberation Serif', 'Times New Roman', serif" font-size="5" font-style="normal" font-weight="normal" fill="#333" textLength="6" lengthAdjust="spacingAndGlyphs">1,(<tspan font-style="italic">i</tspan>)</text>
<text x="214.6" y="210.5" font-family="'Liberation Serif', 'Times New Roman', serif" font-size="7.5" font-weight="normal" font-style="normal" fill="#444" text-anchor="middle" >⋮</text>
<text x="209.5" y="226.3" font-family="'Liberation Serif', 'Times New Roman', serif" font-size="8.6" font-style="normal" font-weight="bold" fill="#333" textLength="4" lengthAdjust="spacingAndGlyphs">Ξ</text>
<text x="213.4" y="223.2" font-family="'Liberation Serif', 'Times New Roman', serif" font-size="5" font-style="normal" font-weight="normal" fill="#333" textLength="4.4" lengthAdjust="spacingAndGlyphs">(<tspan font-style="italic">d</tspan>)</text>
<text x="213.60000000000002" y="229.6" font-family="'Liberation Serif', 'Times New Roman', serif" font-size="5" font-style="normal" font-weight="normal" fill="#333" textLength="6" lengthAdjust="spacingAndGlyphs"><tspan font-style="italic">n</tspan>,(<tspan font-style="italic">i</tspan>)</text>
<text x="209.5" y="239.60000000000002" font-family="'Liberation Serif', 'Times New Roman', serif" font-size="8.6" font-style="normal" font-weight="bold" fill="#333" textLength="4" lengthAdjust="spacingAndGlyphs">Ξ</text>
<text x="213.4" y="236.5" font-family="'Liberation Serif', 'Times New Roman', serif" font-size="5" font-style="normal" font-weight="normal" fill="#333" textLength="4.4" lengthAdjust="spacingAndGlyphs">(<tspan font-style="italic">s</tspan>)</text>
<text x="213.60000000000002" y="242.9" font-family="'Liberation Serif', 'Times New Roman', serif" font-size="5" font-style="normal" font-weight="normal" fill="#333" textLength="4" lengthAdjust="spacingAndGlyphs">(<tspan font-style="italic">i</tspan>)</text>
<path d="M234.6 229.8 V163.9 H283.7" fill="none" stroke="#e6e6e6" stroke-width="0.6"/>
<line x1="234.6" y1="229.8" x2="283.7" y2="229.8" stroke="#666" stroke-width="0.6"/>
<line x1="283.7" y1="164.70000000000002" x2="283.7" y2="229.8" stroke="#666" stroke-width="0.6"/>
<line x1="282.8" y1="166" x2="284.59999999999997" y2="166" stroke="#555" stroke-width="0.7"/>
<text x="288.0" y="167.7" font-family="'Liberation Sans', Arial, sans-serif" font-size="4.8" font-weight="normal" font-style="normal" fill="#333" text-anchor="middle" >3</text>
<line x1="282.8" y1="180.3" x2="284.59999999999997" y2="180.3" stroke="#555" stroke-width="0.7"/>
<text x="288.0" y="182.0" font-family="'Liberation Sans', Arial, sans-serif" font-size="4.8" font-weight="normal" font-style="normal" fill="#333" text-anchor="middle" >2</text>
<text x="0" y="0" font-family="'Liberation Serif', 'Times New Roman', serif" font-size="4" font-style="italic" fill="#555" text-anchor="middle" transform="translate(292.3 180.5) rotate(-60)">x</text>
<line x1="282.8" y1="194.1" x2="284.59999999999997" y2="194.1" stroke="#555" stroke-width="0.7"/>
<text x="288.0" y="195.79999999999998" font-family="'Liberation Sans', Arial, sans-serif" font-size="4.8" font-weight="normal" font-style="normal" fill="#333" text-anchor="middle" >1</text>
<line x1="237.4" y1="228.9" x2="237.4" y2="230.4" stroke="#666" stroke-width="0.5"/>
<text x="237.4" y="241.1" font-family="'Liberation Sans', Arial, sans-serif" font-size="4.8" font-weight="normal" font-style="normal" fill="#444" text-anchor="middle" >0</text>
<line x1="248.3" y1="228.9" x2="248.3" y2="230.4" stroke="#666" stroke-width="0.5"/>
<text x="248.3" y="241.1" font-family="'Liberation Sans', Arial, sans-serif" font-size="4.8" font-weight="normal" font-style="normal" fill="#444" text-anchor="middle" >2</text>
<line x1="259.4" y1="228.9" x2="259.4" y2="230.4" stroke="#666" stroke-width="0.5"/>
<text x="259.4" y="241.1" font-family="'Liberation Sans', Arial, sans-serif" font-size="4.8" font-weight="normal" font-style="normal" fill="#444" text-anchor="middle" >4</text>
<line x1="270.4" y1="228.9" x2="270.4" y2="230.4" stroke="#666" stroke-width="0.5"/>
<text x="270.4" y="241.1" font-family="'Liberation Sans', Arial, sans-serif" font-size="4.8" font-weight="normal" font-style="normal" fill="#444" text-anchor="middle" >6</text>
<line x1="281.5" y1="228.9" x2="281.5" y2="230.4" stroke="#666" stroke-width="0.5"/>
<text x="281.5" y="241.1" font-family="'Liberation Sans', Arial, sans-serif" font-size="4.8" font-weight="normal" font-style="normal" fill="#444" text-anchor="middle" >8</text>
<text x="254.99999999999997" y="246.0" font-family="'Liberation Sans', Arial, sans-serif" font-size="6.2" font-weight="normal" font-style="italic" fill="#333" text-anchor="start" textLength="8.8" lengthAdjust="spacingAndGlyphs" >Time</text>
<text x="251" y="170.8" font-family="'Liberation Serif', 'Times New Roman', serif" font-size="10" textLength="15" lengthAdjust="spacingAndGlyphs" font-weight="normal" fill="#222" stroke="#222" stroke-width="0.2"><tspan font-style="italic">j</tspan> = <tspan font-style="normal">1</tspan></text>
<text x="288.2" y="222.5" font-family="'Liberation Serif', 'Times New Roman', serif" font-size="4" font-weight="normal" font-style="italic" fill="#555" text-anchor="start" >j</text>
<path d="M313.8 229.2 V167 H360.2" fill="none" stroke="#e6e6e6" stroke-width="0.6"/>
<line x1="313.8" y1="229.2" x2="360.2" y2="229.2" stroke="#666" stroke-width="0.6"/>
<line x1="360.2" y1="167.8" x2="360.2" y2="229.2" stroke="#666" stroke-width="0.6"/>
<line x1="359.3" y1="168.3" x2="361.09999999999997" y2="168.3" stroke="#555" stroke-width="0.7"/>
<text x="364.5" y="170.0" font-family="'Liberation Sans', Arial, sans-serif" font-size="4.8" font-weight="normal" font-style="normal" fill="#333" text-anchor="middle" >3</text>
<line x1="359.3" y1="182.3" x2="361.09999999999997" y2="182.3" stroke="#555" stroke-width="0.7"/>
<text x="364.5" y="184.0" font-family="'Liberation Sans', Arial, sans-serif" font-size="4.8" font-weight="normal" font-style="normal" fill="#333" text-anchor="middle" >2</text>
<text x="0" y="0" font-family="'Liberation Serif', 'Times New Roman', serif" font-size="4" font-style="italic" fill="#555" text-anchor="middle" transform="translate(368.8 182.5) rotate(-60)">x</text>
<line x1="359.3" y1="195.4" x2="361.09999999999997" y2="195.4" stroke="#555" stroke-width="0.7"/>
<text x="364.5" y="197.1" font-family="'Liberation Sans', Arial, sans-serif" font-size="4.8" font-weight="normal" font-style="normal" fill="#333" text-anchor="middle" >1</text>
<line x1="315.6" y1="228.29999999999998" x2="315.6" y2="229.79999999999998" stroke="#666" stroke-width="0.5"/>
<text x="315.6" y="239.5" font-family="'Liberation Sans', Arial, sans-serif" font-size="4.8" font-weight="normal" font-style="normal" fill="#444" text-anchor="middle" >0</text>
<line x1="326.7" y1="228.29999999999998" x2="326.7" y2="229.79999999999998" stroke="#666" stroke-width="0.5"/>
<text x="326.7" y="239.5" font-family="'Liberation Sans', Arial, sans-serif" font-size="4.8" font-weight="normal" font-style="normal" fill="#444" text-anchor="middle" >2</text>
<line x1="337.4" y1="228.29999999999998" x2="337.4" y2="229.79999999999998" stroke="#666" stroke-width="0.5"/>
<text x="337.4" y="239.5" font-family="'Liberation Sans', Arial, sans-serif" font-size="4.8" font-weight="normal" font-style="normal" fill="#444" text-anchor="middle" >4</text>
<line x1="347.8" y1="228.29999999999998" x2="347.8" y2="229.79999999999998" stroke="#666" stroke-width="0.5"/>
<text x="347.8" y="239.5" font-family="'Liberation Sans', Arial, sans-serif" font-size="4.8" font-weight="normal" font-style="normal" fill="#444" text-anchor="middle" >6</text>
<line x1="357.5" y1="228.29999999999998" x2="357.5" y2="229.79999999999998" stroke="#666" stroke-width="0.5"/>
<text x="357.5" y="239.5" font-family="'Liberation Sans', Arial, sans-serif" font-size="4.8" font-weight="normal" font-style="normal" fill="#444" text-anchor="middle" >8</text>
<text x="332.8" y="245.29999999999998" font-family="'Liberation Sans', Arial, sans-serif" font-size="6.2" font-weight="normal" font-style="italic" fill="#333" text-anchor="start" textLength="8.8" lengthAdjust="spacingAndGlyphs" >Time</text>
<text x="324.9" y="171.5" font-family="'Liberation Serif', 'Times New Roman', serif" font-size="10" textLength="17" lengthAdjust="spacingAndGlyphs" font-weight="normal" fill="#222" stroke="#222" stroke-width="0.2"><tspan font-style="italic">j</tspan> = <tspan font-style="italic">n</tspan></text>
<text x="364.7" y="221.89999999999998" font-family="'Liberation Serif', 'Times New Roman', serif" font-size="4" font-weight="normal" font-style="italic" fill="#555" text-anchor="start" >j</text>
<line x1="298.9" y1="202.7" x2="308.8" y2="202.7" stroke="#777" stroke-width="0.8" stroke-dasharray="0.8 0.8"/>
<path d="M239.3 202.5 C241 196 243 192.5 245.2 192.5 C248 192.5 252 199 255.4 207.5 L255.4 211 C252 204 248 198 245.2 198 C243 198 241 201 239.3 206 Z" fill="#7cd0d6" fill-opacity="0.8" stroke="#48b8c6" stroke-width="0.7"/>
<path d="M261.7 198.9 C267 201.8 273 204.6 280.3 206.2 L280.3 214.2 C273 213 267 211.5 261.7 209.1 Z" fill="#f4b4ba" fill-opacity="0.8" stroke="#e26878" stroke-width="0.7"/>
<path d="M248.6 186 C252 190 255 194 258 198 C262 203 266 208 270.5 212.5 L270.5 217 C266 212.5 262 208.5 258 203 C255 199 252 195 248.6 190.8 Z" fill="#f2d2a2" fill-opacity="0.8" stroke="#e8b468" stroke-width="0.7"/>
<path d="M238.1 195.2 C239 190 240 186 240.8 185.1 C242 181 243.5 178.5 244.5 177.6 C245.5 176.8 247.5 176.8 248.7 178.2 C251 180.5 252.5 183 253.9 185.1 C255.5 187.5 257 190 258.6 192.2 C260 194 262 196.5 264 198.5 C267 201 270 203 272.5 204 C275 205 277.5 205.6 280.3 206" fill="none" stroke="#555" stroke-width="0.7"/>
<line x1="238.1" y1="195" x2="238.1" y2="216" stroke="#58c8d8" stroke-width="0.8" stroke-dasharray="1.6 1.1"/>
<line x1="248.5" y1="179.5" x2="248.5" y2="191" stroke="#f0c070" stroke-width="0.8" stroke-dasharray="1.6 1.1"/>
<line x1="256" y1="191.7" x2="256" y2="211" stroke="#58c8d8" stroke-width="0.8" stroke-dasharray="1.6 1.1"/>
<line x1="270.3" y1="203" x2="270.3" y2="217.5" stroke="#f0c070" stroke-width="0.8" stroke-dasharray="1.6 1.1"/>
<line x1="261.7" y1="198" x2="261.7" y2="210" stroke="#f08890" stroke-width="0.8" stroke-dasharray="1.6 1.1"/>
<line x1="280.3" y1="205.5" x2="280.3" y2="216" stroke="#f08890" stroke-width="0.8" stroke-dasharray="1.6 1.1"/>
<text x="265.3" y="219.8" font-family="'Liberation Serif', 'Times New Roman', serif" font-size="4" font-weight="normal" font-style="italic" fill="#e8a040" text-anchor="middle" textLength="5" lengthAdjust="spacingAndGlyphs" >i+1</text>
<text x="279.5" y="219.8" font-family="'Liberation Serif', 'Times New Roman', serif" font-size="4" font-weight="normal" font-style="italic" fill="#e05060" text-anchor="middle" textLength="5" lengthAdjust="spacingAndGlyphs" >i+2</text>
<text x="244.3" y="219.8" font-family="'Liberation Serif', 'Times New Roman', serif" font-size="4" font-weight="normal" font-style="italic" fill="#40b0c0" text-anchor="middle" >i</text>
<path d="M319.2 185.2 C321 193 323 203 325.7 212 C328 218 330.5 220.5 333.2 221.2 L333.2 226.7 C330 225 327.5 222 326 218.9 C323.5 210 321 197 319.2 189 Z" fill="#7cd0d6" fill-opacity="0.8" stroke="#48b8c6" stroke-width="0.7"/>
<path d="M327.1 210.3 C330 212.5 333 213.9 336 213.9 C338 213.9 339.5 213.2 340.7 212.4 L340.7 216.7 C339 218.5 337.5 219.6 336 219.6 C332 219.6 329 217 327.1 213.9 Z" fill="#f2d2a2" fill-opacity="0.8" stroke="#e8b468" stroke-width="0.7"/>
<path d="M341.6 196 C342.6 187 343.9 176 345.1 170.3 C346.3 172 347.3 178 348.5 183 C350.5 191 353.5 200.5 357.4 206.3 L357.4 213.2 C354 208.5 351.5 202 349.8 195 C348.3 189 346.6 181 345.3 175.5 C344.6 181 343.6 190 342.8 199 Z" fill="#f4b4ba" fill-opacity="0.8" stroke="#e26878" stroke-width="0.7"/>
<path d="M316.6 197.3 C317 192 317.5 186 318 180 C318.5 174 319.2 170 320 169.3 C321 169.8 322 174 322.5 177.3 C323.5 181.5 324.2 184.5 325 187.3 C326 191 327 194.5 328.3 197.3 C329.5 199.5 330 201 331 202.5 C332.5 204.5 334.5 206.5 336.4 206.7 C338 206.7 339.5 205.5 340.2 203.5 C341 201 341.5 198 342 193 C342.8 185 344 174 345.1 170 C346.3 171 347.5 177 348.5 181 C350 187 351.5 192 353 196 C354.5 200 356 204.5 357.7 206.6" fill="none" stroke="#555" stroke-width="0.7"/>
<line x1="316.4" y1="188" x2="316.4" y2="217" stroke="#58c8d8" stroke-width="0.8" stroke-dasharray="1.6 1.1"/>
<line x1="327.9" y1="200" x2="327.9" y2="211" stroke="#f0c070" stroke-width="0.8" stroke-dasharray="1.6 1.1"/>
<line x1="335" y1="208" x2="335" y2="227" stroke="#58c8d8" stroke-width="0.8" stroke-dasharray="1.6 1.1"/>
<line x1="340.7" y1="204" x2="340.7" y2="217" stroke="#f0c070" stroke-width="0.8" stroke-dasharray="1.6 1.1"/>
<line x1="342.3" y1="190" x2="342.3" y2="206" stroke="#f08890" stroke-width="0.8" stroke-dasharray="1.6 1.1"/>
<line x1="343.6" y1="180" x2="343.6" y2="206" stroke="#f0c070" stroke-width="0.8" stroke-dasharray="1.6 1.1"/>
<line x1="357.3" y1="206" x2="357.3" y2="214" stroke="#f08890" stroke-width="0.8" stroke-dasharray="1.6 1.1"/>
<text x="343.8" y="218.8" font-family="'Liberation Serif', 'Times New Roman', serif" font-size="4" font-weight="normal" font-style="italic" fill="#e8a040" text-anchor="middle" textLength="5" lengthAdjust="spacingAndGlyphs" >i+1</text>
<text x="357.1" y="212.8" font-family="'Liberation Serif', 'Times New Roman', serif" font-size="4" font-weight="normal" font-style="italic" fill="#e05060" text-anchor="middle" textLength="5" lengthAdjust="spacingAndGlyphs" >i+2</text>
</svg></body></html>
